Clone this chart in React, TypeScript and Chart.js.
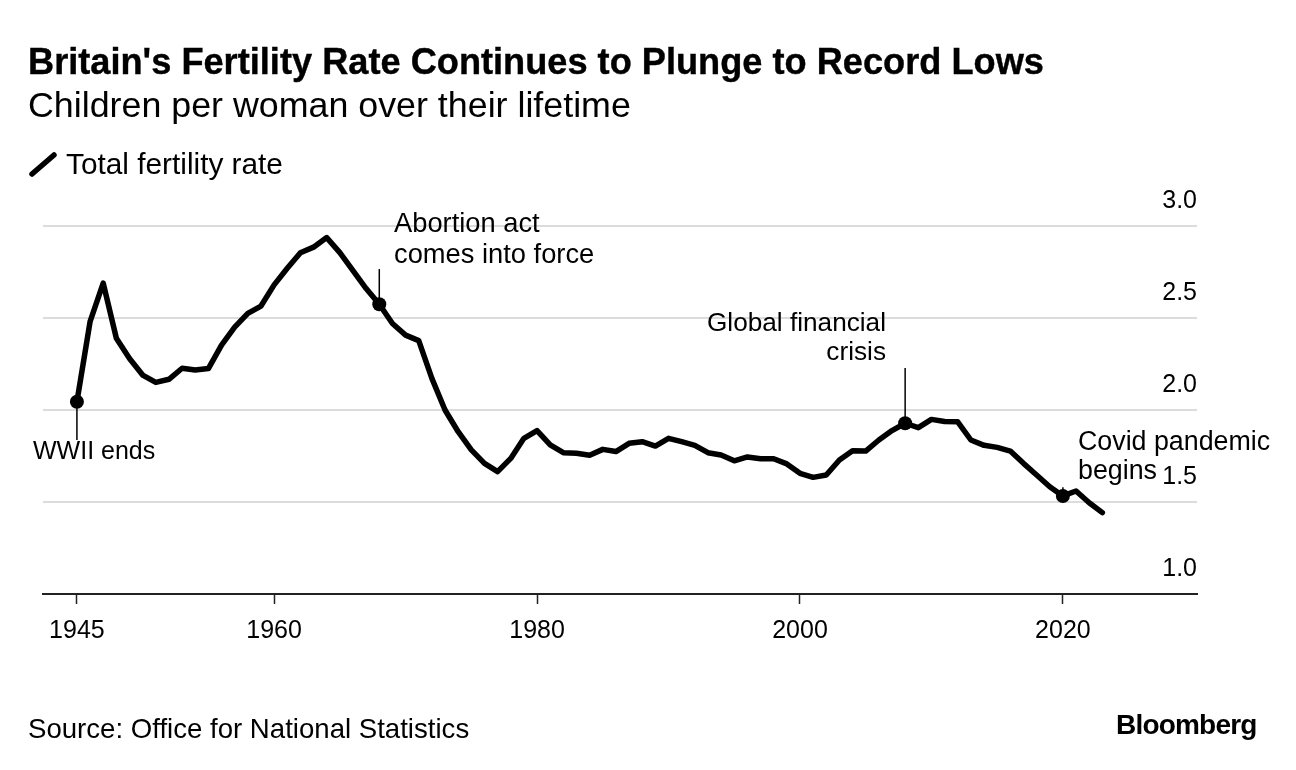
import React, { useEffect, useRef } from "react";
import { Chart, registerables } from "chart.js";

Chart.register(...registerables);

const years = [
  1945, 1946, 1947, 1948, 1949, 1950, 1951, 1952, 1953, 1954, 1955, 1956, 1957, 1958, 1959, 1960, 1961, 1962, 1963, 1964,
  1965, 1966, 1967, 1968, 1969, 1970, 1971, 1972, 1973, 1974, 1975, 1976, 1977, 1978, 1979, 1980, 1981, 1982, 1983, 1984,
  1985, 1986, 1987, 1988, 1989, 1990, 1991, 1992, 1993, 1994, 1995, 1996, 1997, 1998, 1999, 2000, 2001, 2002, 2003, 2004,
  2005, 2006, 2007, 2008, 2009, 2010, 2011, 2012, 2013, 2014, 2015, 2016, 2017, 2018, 2019, 2020, 2021, 2022, 2023,
];
const fertilityRate = [
  2.045, 2.48, 2.69, 2.39, 2.28, 2.19, 2.15, 2.167, 2.227, 2.217, 2.225, 2.353, 2.45, 2.525, 2.565, 2.68, 2.77, 2.855, 2.885, 2.937,
  2.855, 2.757, 2.66, 2.575, 2.47, 2.407, 2.377, 2.172, 2.0, 1.882, 1.783, 1.71, 1.665, 1.737, 1.846, 1.888, 1.81, 1.768, 1.765, 1.754,
  1.786, 1.774, 1.819, 1.828, 1.804, 1.846, 1.828, 1.808, 1.768, 1.755, 1.724, 1.745, 1.735, 1.735, 1.707, 1.656, 1.634, 1.647, 1.728, 1.778,
  1.777, 1.837, 1.888, 1.928, 1.904, 1.949, 1.938, 1.936, 1.837, 1.808, 1.797, 1.777, 1.71, 1.647, 1.583, 1.533, 1.56, 1.496, 1.442,
];
const xTicks = [1945, 1960, 1980, 2000, 2020];
const yTicks = [1, 1.5, 2, 2.5, 3];
const eventYears = [1945, 1968, 2008, 2020];
const eventLeaderEnds = [1.837, 2.766, 2.228, 1.58];
const eventLabels = [["WWII ends"], ["Abortion act", "comes into force"], ["Global financial", "crisis"], ["Covid pandemic", "begins"]];

const FONT = '"Liberation Sans", Arial, sans-serif';

const labelPlacement = [
  { x: 33, y: 452, step: 0, align: "left", size: 25 },
  { x: 394, y: 224, step: 31, align: "left", size: 27.3 },
  { x: 886, y: 324, step: 29, align: "right", size: 26.2 },
  { x: 1078, y: 443, step: 29, align: "left", size: 26.8 },
];

const annotationPlugin = {
  id: "events",
  beforeDatasetsDraw(chart: any) {
    const { ctx, scales } = chart;
    ctx.save();
    ctx.strokeStyle = "#000";
    ctx.lineWidth = 1.5;
    eventYears.forEach((yr, i) => {
      const px = scales.x.getPixelForValue(yr);
      const v = fertilityRate[years.indexOf(yr)];
      ctx.beginPath();
      ctx.moveTo(px, scales.y.getPixelForValue(v));
      ctx.lineTo(px, scales.y.getPixelForValue(eventLeaderEnds[i]));
      ctx.stroke();
    });
    ctx.restore();
  },
  afterDatasetsDraw(chart: any) {
    const { ctx } = chart;
    ctx.save();
    ctx.fillStyle = "#000";
    ctx.textBaseline = "middle";
    eventLabels.forEach((lines, i) => {
      const p = labelPlacement[i];
      ctx.font = `${p.size}px ${FONT}`;
      ctx.textAlign = p.align;
      lines.forEach((t, j) => ctx.fillText(t, p.x, p.y + j * p.step));
    });
    ctx.restore();
  },
};

const abs = (left: number, top: number, extra: any = {}) => ({
  position: "absolute" as const,
  left,
  top,
  whiteSpace: "nowrap" as const,
  color: "#000",
  fontFamily: FONT,
  lineHeight: 1,
  ...extra,
});

export default function App() {
  const ref = useRef<HTMLCanvasElement>(null);
  useEffect(() => {
    const chart = new Chart(ref.current!, {
      type: "line",
      data: {
        datasets: [
          {
            label: "Events",
            data: eventYears.map((yr) => ({ x: yr, y: fertilityRate[years.indexOf(yr)] })),
            showLine: false,
            pointRadius: 7,
            pointBackgroundColor: "#000",
            pointBorderWidth: 0,
          },
          {
            label: "Total fertility rate",
            data: years.map((yr, i) => ({ x: yr, y: fertilityRate[i] })),
            borderColor: "#000",
            borderWidth: 5.5,
            pointRadius: 0,
            tension: 0,
            borderJoinStyle: "round",
            borderCapStyle: "round",
          },
        ],
      },
      options: {
        animation: false,
        responsive: false,
        devicePixelRatio: 1,
        layout: { padding: { left: 43, right: 99, top: 226, bottom: 116 } },
        plugins: { legend: { display: false }, tooltip: { enabled: false } },
        scales: {
          x: {
            type: "linear",
            min: 1942.42,
            max: 2030.2,
            afterBuildTicks: (s: any) => {
              s.ticks = xTicks.map((value) => ({ value }));
            },
            afterFit: (s: any) => {
              s.height = 60;
            },
            grid: { drawOnChartArea: false, drawTicks: true, tickLength: 10, tickColor: "#222", tickWidth: 1.5 },
            border: { display: true, color: "#222", width: 2 },
            ticks: {
              color: "#000",
              font: { family: FONT, size: 25 },
              padding: 12,
              maxRotation: 0,
              autoSkip: false,
              callback: (v: any) => String(v),
            },
          },
          y: {
            type: "linear",
            position: "right",
            min: 1,
            max: 3,
            afterBuildTicks: (s: any) => {
              s.ticks = yTicks.map((value) => ({ value }));
            },
            afterFit: (s: any) => {
              s.width = 0;
            },
            grid: { color: "#dcdcdc", lineWidth: 2, drawTicks: false },
            border: { display: false },
            ticks: {
              mirror: true,
              color: "#000",
              font: { family: FONT, size: 25 },
              padding: 0,
              labelOffset: -25,
              callback: (v: any) => Number(v).toFixed(1),
            },
          },
        },
      },
      plugins: [annotationPlugin],
    } as any);
    return () => chart.destroy();
  }, []);

  return (
    <div style={{ position: "absolute", left: 0, top: 0, width: 1296, height: 770, background: "#fff", overflow: "hidden" }}>
      <canvas ref={ref} width={1296} height={770} style={{ position: "absolute", left: 0, top: 0, width: 1296, height: 770 }} />
      <div style={abs(28, 44, { fontSize: 36.2, fontWeight: 700, WebkitTextStroke: "0.4px #000" })}>Britain's Fertility Rate Continues to Plunge to Record Lows</div>
      <div style={abs(28, 88, { fontSize: 35.8 })}>Children per woman over their lifetime</div>
      <svg width={30} height={26} style={{ position: "absolute", left: 28, top: 152 }}>
        <line x1={4} y1={22} x2={26} y2={3} stroke="#000" strokeWidth={5.5} strokeLinecap="round" />
      </svg>
      <div style={abs(66, 149, { fontSize: 29.8 })}>Total fertility rate</div>
      <div style={abs(28, 715, { fontSize: 27.6 })}>Source: Office for National Statistics</div>
      <div style={abs(1116, 711, { fontSize: 28, fontWeight: 700, letterSpacing: -0.8 })}>Bloomberg</div>
    </div>
  );
}
